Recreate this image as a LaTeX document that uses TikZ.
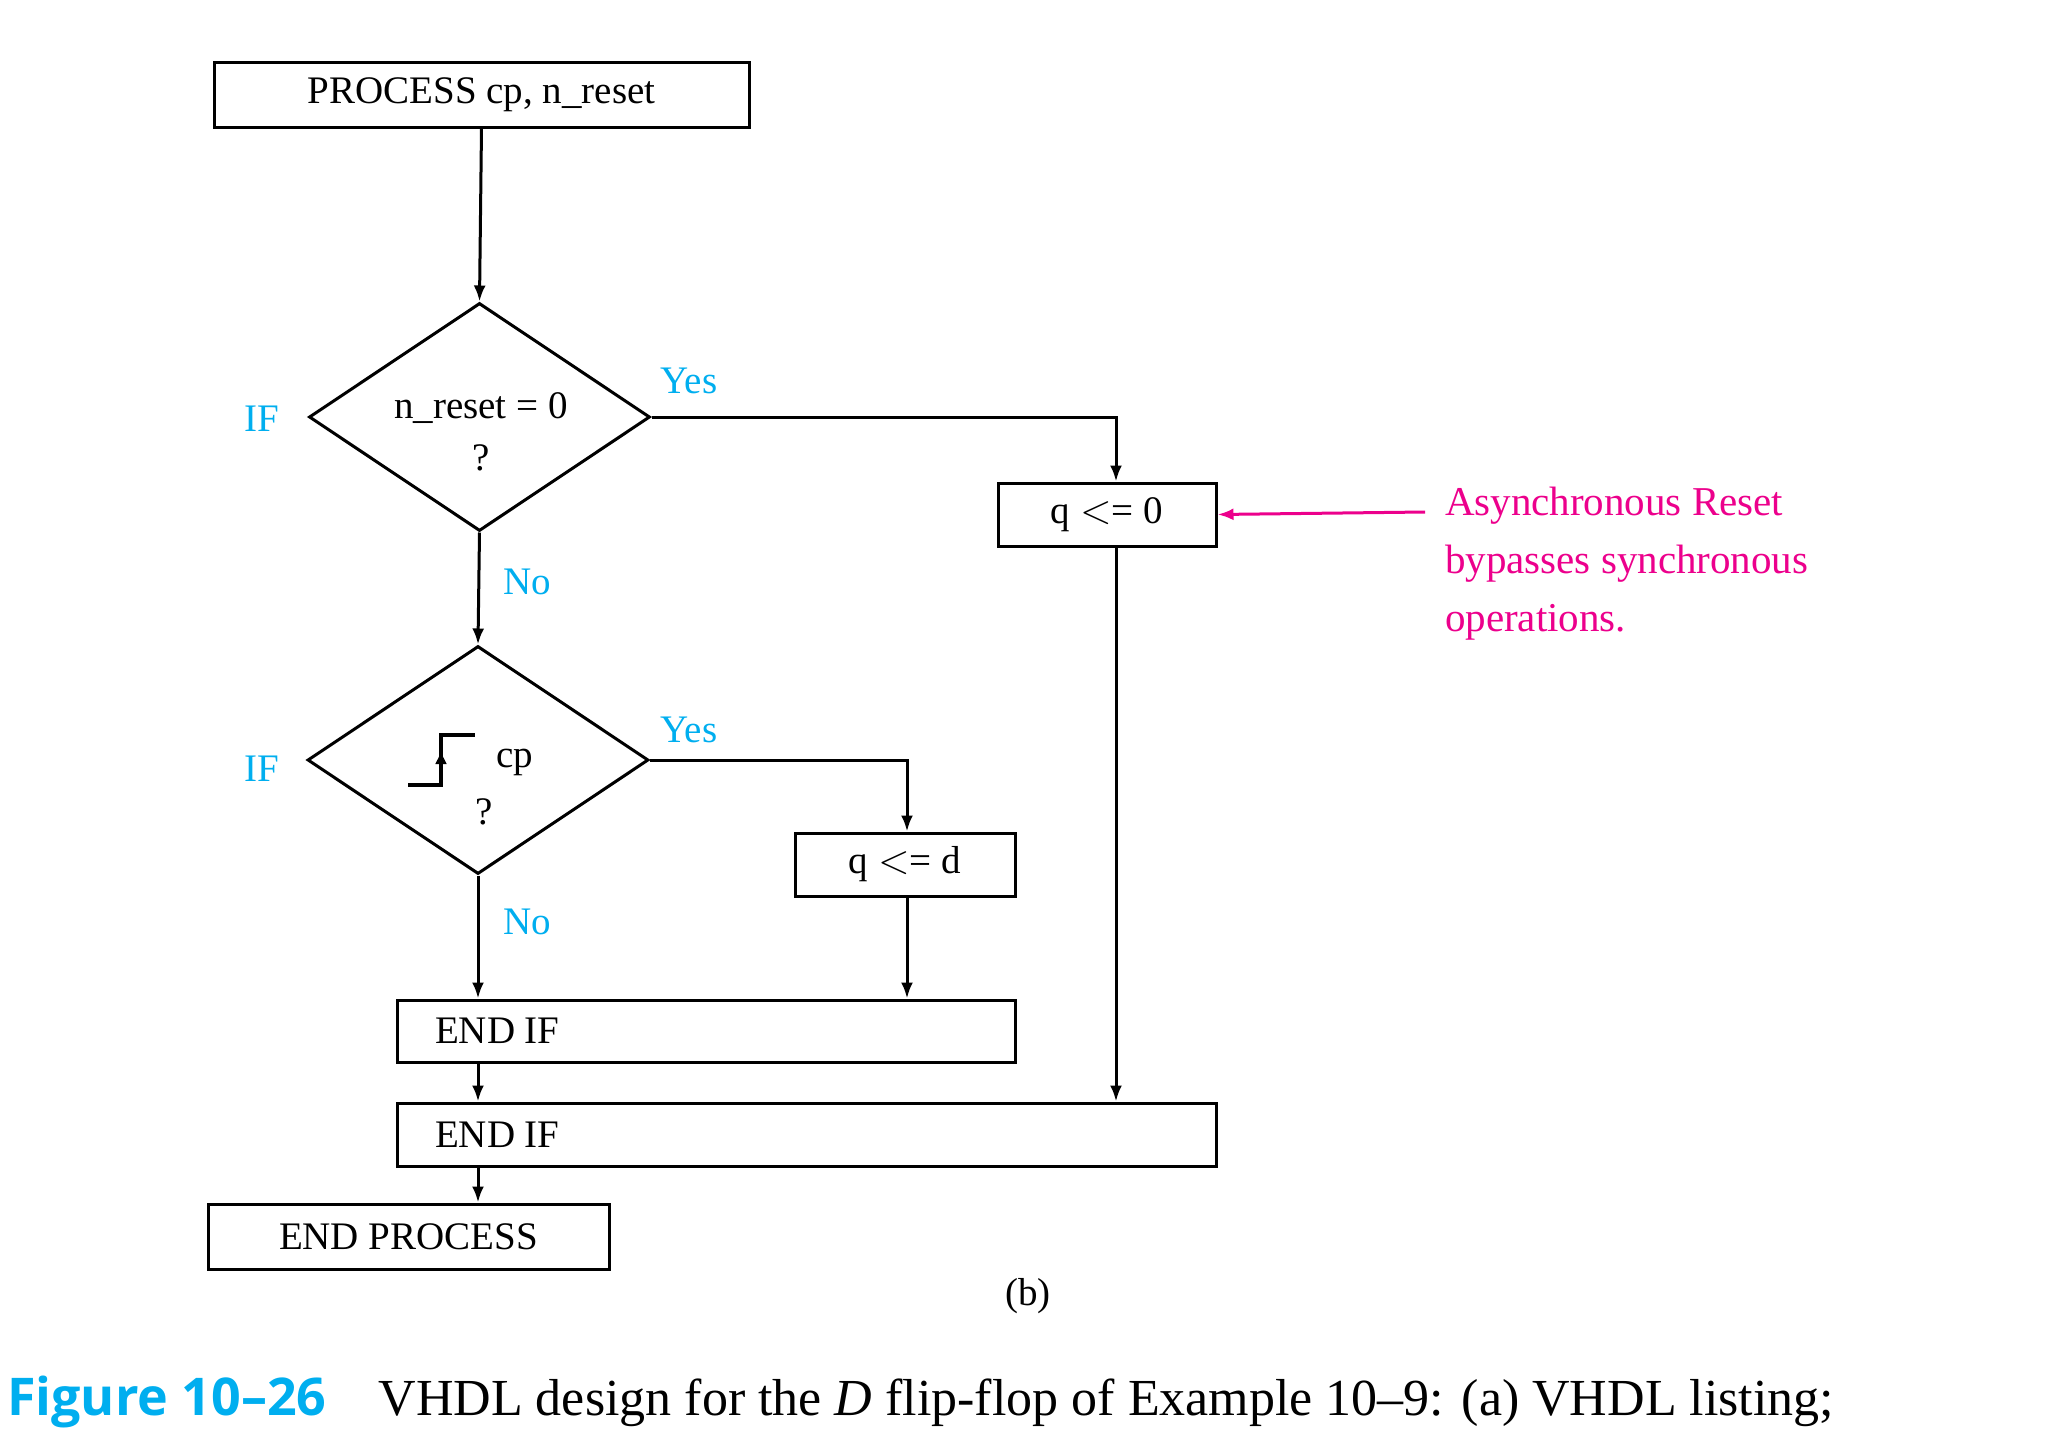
\documentclass[tikz,border=0pt]{standalone}
\usepackage{fontspec}
\setmainfont{Liberation Serif}
\newfontfamily\figsans{Open Sans}
\usetikzlibrary{shapes.geometric,arrows.meta}
\definecolor{cy}{RGB}{0,174,239}
\definecolor{mg}{RGB}{236,0,140}
\begin{document}
\begin{tikzpicture}[x=0.5pt,y=-0.5pt,
  ln/.style={line width=1.5pt},
  arr/.style={ln,-{Latex[length=8pt,width=6pt]}},
  box/.style={draw,ln,rectangle,inner sep=0pt,font=\fontsize{19.5}{22}\selectfont},
  dia/.style={draw,ln,diamond,inner sep=0pt,minimum width=170.5pt,minimum height=114pt},
  lab/.style={text=cy,font=\fontsize{19.5}{22}\selectfont},
  txt/.style={font=\fontsize{19.5}{22}\selectfont}]
\useasboundingbox (0,0) rectangle (2046,1435);
\node[box,minimum width=267.5pt,minimum height=32.5pt] (proc) at (481.5,94.5) {PROCESS cp, n\_reset};
\node[dia] (d1) at (479.5,417) {};
\node[txt] (t1) at (481,408) {n\_reset = 0};
\node[txt] (q1) at (481,458) {?};
\node[dia] (d2) at (478,760) {};
\node[txt] (cp) at (515,762) {cp};
\node[txt] (q2) at (484,812) {?};
\draw[line width=2pt] (408,785) -- (441,785) -- (441,735) -- (475,735);
\draw[line width=2pt,-{Latex[length=7pt,width=6pt]}] (441,780) -- (441,750);
\node[lab] (if1) at (262,419) {IF};
\node[lab] (if2) at (262,769) {IF};
\node[lab] (y1) at (689,381) {Yes};
\node[lab] (y2) at (689,730) {Yes};
\node[lab] (n1) at (527,582) {No};
\node[lab] (n2) at (527,922) {No};
\node[box,minimum width=109pt,minimum height=31.5pt] (q0) at (1107,514.5) {q $<$= 0};
\node[box,minimum width=110pt,minimum height=31.5pt] (qd) at (905,864.5) {q $<$= d};
\node[box,minimum width=309pt,minimum height=31pt] (e1) at (706,1031) {};
\node[txt,anchor=west] (e1t) at (428,1031) {END IF};
\node[box,minimum width=409.5pt,minimum height=31.5pt] (e2) at (806.5,1134.5) {};
\node[txt,anchor=west] (e2t) at (428,1134.5) {END IF};
\node[box,minimum width=200.5pt,minimum height=32.5pt] (ep) at (408.5,1236.5) {END PROCESS};
\node[txt] (b) at (1028,1296) {(b)};
\node[text=mg,font=\fontsize{20.5}{29}\selectfont,align=left,anchor=north west] (note) at (1438,480) {Asynchronous Reset\\bypasses synchronous\\operations.};
\coordinate (na) at (1425,512);
\draw[ln,mg,-{Latex[length=8pt,width=6pt]}] (na) -- (q0.east);
\node[anchor=west,font=\fontsize{26}{30}\selectfont] (cap) at (0,1402) {{\figsans\bfseries\color{cy}Figure 10–26}\quad VHDL design for the \textit{D} flip-flop of Example 10–9: (a) VHDL listing;};
\draw[arr] (proc.south) -- (d1.north);
\draw[arr] (d1.east) -| (q0.north -| 1116,0);
\draw[arr] (d1.south) -- (d2.north);
\draw[arr] (d2.east) -| (qd.north -| 907,0);
\draw[arr] (d2.south) -- (e1.north -| d2.south);
\draw[arr] (qd.south -| 907,0) -- (e1.north -| 907,0);
\draw[arr] (q0.south -| 1116,0) -- (e2.north -| 1116,0);
\draw[arr] (e1.south -| d2.south) -- (e2.north -| d2.south);
\draw[arr] (e2.south -| d2.south) -- (ep.north -| d2.south);
\end{tikzpicture}
\end{document}
